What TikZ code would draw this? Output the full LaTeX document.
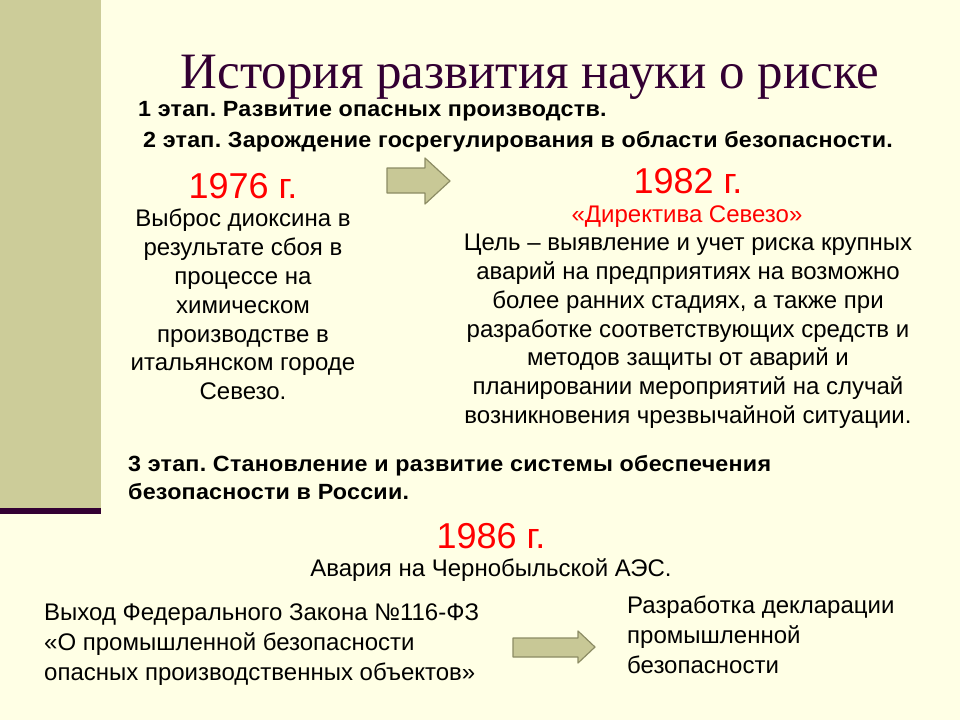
\documentclass[tikz,border=0pt]{standalone}
\usepackage{fontspec}
\setmainfont{Liberation Sans}
\newfontfamily\stagefont[FakeStretch=1.06, LetterSpace=1]{Liberation Sans}
\newfontfamily\titlefont{Liberation Serif}
\usetikzlibrary{positioning}
\frenchspacing
\definecolor{slidebg}{RGB}{255,255,229}
\definecolor{sidebar}{RGB}{204,204,153}
\definecolor{plum}{RGB}{51,0,51}
\definecolor{arrowfill}{RGB}{200,200,150}
\definecolor{arrowline}{RGB}{140,140,100}
\begin{document}
\begin{tikzpicture}[
    x=1pt, y=-1pt,
    year/.style={text=red, inner sep=0, font=\fontsize{36}{40}\selectfont},
    body/.style={align=center, inner sep=0, font=\fontsize{24}{28.8}\selectfont},
    stage/.style={align=left, inner sep=0, font=\stagefont\bfseries\fontsize{22}{28}\selectfont},
    note/.style={align=left, inner sep=0, font=\fontsize{24}{30}\selectfont},
    blockarrow/.style={fill=arrowfill, draw=arrowline, line width=1.2pt, line join=round}
]
% slide background and side bar
\fill[slidebg] (0,0) rectangle (960,720);
\useasboundingbox (0,0) rectangle (960,720);
\fill[sidebar] (0,0) rectangle (101,508);
\fill[plum] (0,508) rectangle (101,514);

\node [anchor=base, text=plum, inner sep=0, font=\titlefont\fontsize{51}{55}\selectfont] (title) at (530,88) {История развития науки о риске};
\node [stage, anchor=base west] (stage1) at (138,116) {1 этап. Развитие опасных производств.};
\node [stage, anchor=base west] (stage2) at (143,147) {2 этап. Зарождение госрегулирования в области безопасности.};

% 1976
\node [year, anchor=base] (y1976) at (243,198) {1976 г.};
\node [body, anchor=north] (seveso) at (243,209) {Выброс диоксина в\\результате сбоя в\\процессе на\\химическом\\производстве в\\итальянском городе\\Севезо.};
\draw[blockarrow] (387,168) -- (425,168) -- (425,158) -- (450,181) -- (425,204) -- (425,193) -- (387,193) -- cycle;

% 1982
\node [year, anchor=base] (y1982) at (688,193) {1982 г.};
\node [body, text=red, anchor=base] (directive) at (687,222) {«Директива Севезо»};
\node [body, anchor=north] (goal) at (688,234) {Цель – выявление и учет риска крупных\\аварий на предприятиях на возможно\\более ранних стадиях, а также при\\разработке соответствующих средств и\\методов защиты от аварий и\\планировании мероприятий на случай\\возникновения чрезвычайной ситуации.};

% 1986
\node [stage, anchor=north west] (stage3) at (128,455) {3 этап. Становление и развитие системы обеспечения\\безопасности в России.};
\node [year, anchor=base] (y1986) at (491,548) {1986 г.};
\node [note, anchor=base] (chernobyl) at (491,576) {Авария на Чернобыльской АЭС.};
\node [note, anchor=north west] (law) at (44,604) {Выход Федерального Закона №116-ФЗ\\«О промышленной безопасности\\опасных производственных объектов»};
\draw[blockarrow] (513,638) -- (578,638) -- (578,631) -- (595,647) -- (578,663) -- (578,657) -- (513,657) -- cycle;
\node [note, anchor=north west] (declaration) at (627,596) {Разработка декларации\\промышленной\\безопасности};
\end{tikzpicture}
\end{document}
